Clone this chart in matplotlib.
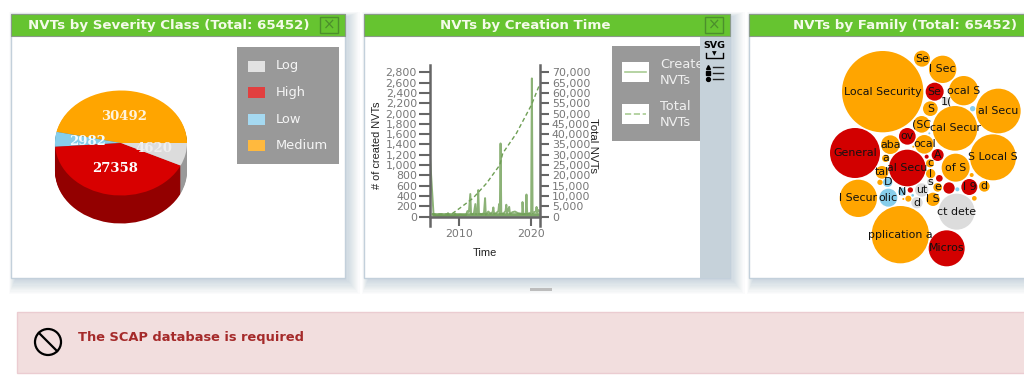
import matplotlib
matplotlib.use("Agg")
import matplotlib.pyplot as plt
from matplotlib.patches import Rectangle, Circle

W, H = 1024, 376

# severity pie
severity_names = ["Medium", "Low", "High", "Log"]
severity_counts = [30492, 2982, 27358, 4620]
severity_top = ["#ffa500", "#87ceeb", "#d80000", "#dcdcdc"]
severity_side = ["#996300", "#517b8d", "#930000", "#999999"]
legend_names = ["Log", "High", "Low", "Medium"]
legend_colors = ["#e2e2e2", "#e23f3f", "#a5d9f1", "#ffb93e"]

# creation time
created_years = [2006.0, 2006.5, 2007.5, 2008.4, 2008.5, 2008.6, 2009.4, 2009.5, 2009.6, 2010.2, 2010.7, 2011.0,
                 2011.2, 2011.4, 2011.6, 2011.7, 2011.9, 2012.1, 2012.3, 2012.4, 2012.6, 2012.7, 2012.8, 2013.2,
                 2013.5, 2013.65, 2013.75, 2014.1, 2014.4, 2014.7, 2014.8, 2014.9, 2015.2, 2015.5, 2015.6, 2015.7,
                 2015.8, 2015.9, 2016.2, 2016.5, 2016.6, 2016.7, 2017.0, 2017.1, 2017.5, 2017.8, 2018.2, 2018.6,
                 2018.8, 2018.85, 2018.95, 2019.3, 2019.4, 2019.5, 2019.9, 2020.05, 2020.15, 2020.25, 2020.5,
                 2020.7, 2020.8, 2020.9, 2021.1, 2021.25]
created_counts = [1150, 30, 15, 20, 70, 15, 20, 60, 20, 40, 30, 30,
                  110, 90, 440, 60, 50, 70, 245, 50, 90, 516, 60, 50,
                  70, 360, 40, 100, 60, 90, 180, 60, 70, 110, 245, 60,
                  1420, 70, 60, 110, 232, 70, 190, 60, 90, 100, 70, 60,
                  60, 284, 50, 60, 430, 60, 70, 90, 2680, 70, 90,
                  100, 190, 80, 130, 90]
total_years = [2006.2, 2009.0, 2010.1, 2011.95, 2013.85, 2015.7, 2016.1, 2018.0, 2020.1, 2021.25]
total_counts = [1300, 1300, 4040, 8900, 16170, 25060, 30700, 40400, 54200, 64300]
left_ticks = list(range(0, 2801, 200))
right_ticks = list(range(0, 70001, 5000))
year_ticks = [2010, 2020]

# family bubbles, measured on a 3x crop of the panel
bubble_x = [413, 531, 593, 569, 656, 556, 760, 530, 630, 487, 436, 538, 330, 744, 487, 578, 632, 411, 340, 430,
            471, 466, 635, 605, 564, 530, 516, 673, 612, 718, 557, 555, 428, 405, 583, 545, 578, 496, 490, 680,
            683, 422, 603, 688, 556, 637, 475, 553, 505, 503]
bubble_y = [245, 146, 178, 245, 242, 296, 303, 343, 355, 379, 404, 403, 429, 442, 474, 435, 473, 487, 565, 563,
            545, 674, 605, 715, 568, 540, 578, 531, 534, 529, 491, 460, 517, 517, 505, 440, 532, 540, 566, 495,
            296, 445, 275, 565, 516, 538, 567, 370, 410, 556]
bubble_r = [122, 24, 41, 27, 44, 22, 67, 25, 67, 25, 28, 28, 75, 69, 55, 18, 42, 19, 56, 27,
            12, 86, 54, 54, 20, 20, 17, 24, 17, 16, 14, 12, 14, 8, 10, 6, 13, 8, 9, 6,
            8, 11, 13, 7, 10, 6, 3, 3, 3, 4]
bubble_sev = "MMMHMMMMMHMMHMHHMMMLLMGHMGGHHMMMLMHHMHMMLMGMGLMLML"
bubble_labels = ["Local Security", "Se", "l Sec", "Se", "ocal S", "S", "al Secu", "(SC", "cal Secur", "ov",
                 "aba", "ocal", "General", "S Local S", "al Secu", "A", "of S", "tal", "l Secur", "olic",
                 "N", "pplication a", "ct dete", "Micros", "l S", "ut", "d", "l 9", "", "d",
                 "l", "c", "D", "", "", "", "e", "", "", "",
                 "", "a", "1(", "", "s", "", "", "", "", ""]
sev_colors = {"M": "#ffa500", "H": "#d20000", "L": "#87ceeb", "G": "#dcdcdc"}


def pt(px):
    return px * 0.72


def axes_px(fig, x0, y0, x1, y1, **kw):
    return fig.add_axes([x0 / W, 1 - y1 / H, (x1 - x0) / W, (y1 - y0) / H], **kw)


def panel(ax, x0, x1, title, title_x, close=True):
    y0, y1 = 14, 278
    for i in range(16):
        left = x0 + 6 - i * 0.5
        right = x1 - 2 + i * 1.1
        bottom = y1 - 2 + i * 1.2
        ax.add_patch(Rectangle((left, y0 + 4 - i * 0.4), right - left, bottom - y0 - 4 + i * 0.4,
                               fc="#5b7f9b", ec="none", alpha=0.024, zorder=1))
    ax.add_patch(Rectangle((x0, y0), x1 - x0, y1 - y0, fc="white", ec="#c3d0db", lw=1, zorder=2))
    ax.add_patch(Rectangle((x0, y0), x1 - x0, 22, fc="#66c430", ec="#8a9a88", lw=0.8, zorder=3))
    ax.text(title_x, 25, title, color="#f4fbe9", fontsize=pt(13.4), fontweight="bold",
            ha="center", va="center", zorder=4)
    if close:
        cx = x1 - 16
        ax.add_patch(Rectangle((cx - 9, 17), 18, 16, fc="none", ec="#4c8f2c", lw=1, zorder=4))
        ax.text(cx, 25, "×", color="#4c8f2c", fontsize=pt(15), ha="center", va="center", zorder=4)


fig = plt.figure(figsize=(W / 100, H / 100), dpi=100)
root = axes_px(fig, 0, 0, W, H)
root.set_xlim(0, W)
root.set_ylim(H, 0)
root.axis("off")

panel(root, 10.5, 345, "NVTs by Severity Class (Total: 65452)", 169)
panel(root, 363.5, 730, "NVTs by Creation Time", 525)
panel(root, 748.5, 1040, "NVTs by Family (Total: 65452)", 905, close=False)

# legend of first panel
root.add_patch(Rectangle((237, 47), 102, 117, fc="#999999", ec="none", zorder=5))
for i, (name, c) in enumerate(zip(legend_names, legend_colors)):
    yc = 66 + i * 26.6
    root.add_patch(Rectangle((248, yc - 5.5), 17, 11, fc=c, ec="none", zorder=6))
    root.text(276, yc, name, color="#f5f5f5", fontsize=pt(13), va="center", zorder=6)

# legend of second panel, sidebar cuts it off
root.add_patch(Rectangle((612, 46), 90, 95, fc="#999999", ec="none", zorder=5))
for yc, dash, l1, l2 in [(72, "-", "Create", "NVTs"), (114, "--", "Total", "NVTs")]:
    root.add_patch(Rectangle((622, yc - 10), 27, 20, fc="white", ec="none", zorder=6))
    root.plot([625, 646], [yc, yc], ls=dash, color="#a9cc94", lw=1.2, zorder=7)
    root.text(660, yc - 7, l1, color="#f0f0f0", fontsize=pt(13), va="center", zorder=6)
    root.text(660, yc + 9, l2, color="#f0f0f0", fontsize=pt(13), va="center", zorder=6)
root.add_patch(Rectangle((700, 36.5), 29.5, 241, fc="#c6d2da", ec="none", zorder=8))
root.text(714.5, 45, "SVG", fontsize=pt(9.5), fontweight="bold", ha="center", va="center", zorder=9)
root.plot([706, 706, 723, 723], [53, 58, 58, 53], color="black", lw=1, zorder=9)
root.text(714.5, 54, "▼", fontsize=pt(6), ha="center", va="center", zorder=9)
for yc, m in zip([67, 73, 79], ["^", "s", "o"]):
    root.plot([707.5], [yc], marker=m, ms=2.8, color="black", zorder=9)
    root.plot([712.5, 723], [yc, yc], color="#222222", lw=1, zorder=9)

# handle and alert
root.add_patch(Rectangle((530, 288), 22, 3, fc="#bdbdbd", ec="none", zorder=2))
root.add_patch(Rectangle((17, 312), 1020, 61, fc="#f2dede", ec="#ebccd1", lw=1, zorder=2))
root.add_patch(Circle((48, 342), 13, fc="none", ec="black", lw=1.6, zorder=3))
root.plot([39, 57], [333, 351], color="black", lw=1.6, zorder=3)
root.text(78, 337.5, "The SCAP database is required", color="#a52a2a", fontsize=pt(13), fontweight="bold",
          va="center", zorder=3)

# pie with a stacked side
pie_ax = axes_px(fig, 55, 90.5, 187, 223.5)
pie_ax.patch.set_alpha(0)
depth = 28 / 52.5
for k in range(28, 0, -1):
    pie_ax.pie(severity_counts, colors=severity_side, startangle=0, counterclock=True,
               center=(0, -k / 52.5), radius=1, wedgeprops={"lw": 0})
pie_ax.pie(severity_counts, colors=severity_top, startangle=0, counterclock=True,
           center=(0, 0), radius=1, wedgeprops={"lw": 0})
pie_ax.set_aspect("auto")
pie_ax.set_xlim(-1, 1)
pie_ax.set_ylim(-1 - depth, 1)
pie_label_xy = [(124.5, 116), (88, 141.5), (115, 168.5), (153.5, 149)]
for (x, y), v, c in zip(pie_label_xy, severity_counts, ["#fff3dc", "#f2fbff", "white", "#efefef"]):
    pie_ax.text(x, y, str(v), color=c, fontsize=pt(13.3), family="DejaVu Serif", fontweight="bold",
                ha="center", va="center", zorder=10, transform=root.transData, clip_on=False)

# creation time chart
ax = axes_px(fig, 430, 65, 540, 226)
ax.patch.set_alpha(0)
ax.set_xlim(2006.0, 2021.28)
ax.set_ylim(-180, 2940)
ax.plot(created_years, created_counts, color="#6f9f55", lw=1.4, alpha=0.8, clip_on=True)
ax.plot([2006.5, 2021.25], [30, 30], color="#6f9f55", lw=2.6, alpha=0.9)
ax.set_yticks(left_ticks)
ax.set_yticklabels([f"{v:,}" for v in left_ticks])
ax.set_xticks(year_ticks)
ax.tick_params(axis="y", length=pt(11), width=1.5, color="#666666", labelcolor="#777777",
               labelsize=pt(11), pad=pt(2))
ax.tick_params(axis="x", length=pt(9), width=1.5, color="#666666", labelcolor="#777777",
               labelsize=pt(11), pad=pt(3))
for s in ["top", "right"]:
    ax.spines[s].set_visible(False)
ax.spines["left"].set_color("#666666")
ax.spines["left"].set_linewidth(1.8)
ax.spines["bottom"].set_position(("data", 0))
ax.spines["bottom"].set_color("#666666")
ax.spines["bottom"].set_linewidth(1.8)

ax2 = ax.twinx()
ax2.set_ylim(-180 * 25, 2940 * 25)
ax2.plot(total_years, total_counts, color="#6f9f55", lw=1, ls=(0, (3, 2)))
ax2.set_yticks(right_ticks)
ax2.set_yticklabels([f"{v:,}" for v in right_ticks])
ax2.tick_params(axis="y", length=pt(9), width=1.5, color="#666666", labelcolor="#777777",
                labelsize=pt(11), pad=pt(3))
for s in ["top", "left", "bottom"]:
    ax2.spines[s].set_visible(False)
ax2.spines["right"].set_color("#666666")
ax2.spines["right"].set_linewidth(1.8)

# axis titles sit over the tick labels in the original
ax2.text(377, 145, "# of created NVTs", rotation=90, fontsize=pt(11), color="#222222",
         family="Liberation Sans", ha="center", va="center", transform=root.transData, clip_on=False)
ax2.text(593, 145, "Total NVTs", rotation=-90, fontsize=pt(11.5), color="#222222",
         family="Liberation Sans", ha="center", va="center", transform=root.transData, clip_on=False)
ax2.text(485, 252.5, "Time", fontsize=pt(11), color="#222222", family="Liberation Sans",
         ha="center", va="center", transform=root.transData, clip_on=False)

# bubbles
bub = axes_px(fig, 745, 10, 1024, 290)
bub.set_xlim(0, 837)
bub.set_ylim(840, 0)
bub.axis("off")
for x, y, r, sev, label in zip(bubble_x, bubble_y, bubble_r, bubble_sev, bubble_labels):
    c = Circle((x, y), r, fc=sev_colors[sev], ec="none")
    bub.add_patch(c)
    if label:
        t = bub.text(x, y, label, fontsize=pt(11), color="#111111", ha="center", va="center",
                     family="DejaVu Sans")
        t.set_clip_path(c)

fig.savefig("out.png", dpi=100)
